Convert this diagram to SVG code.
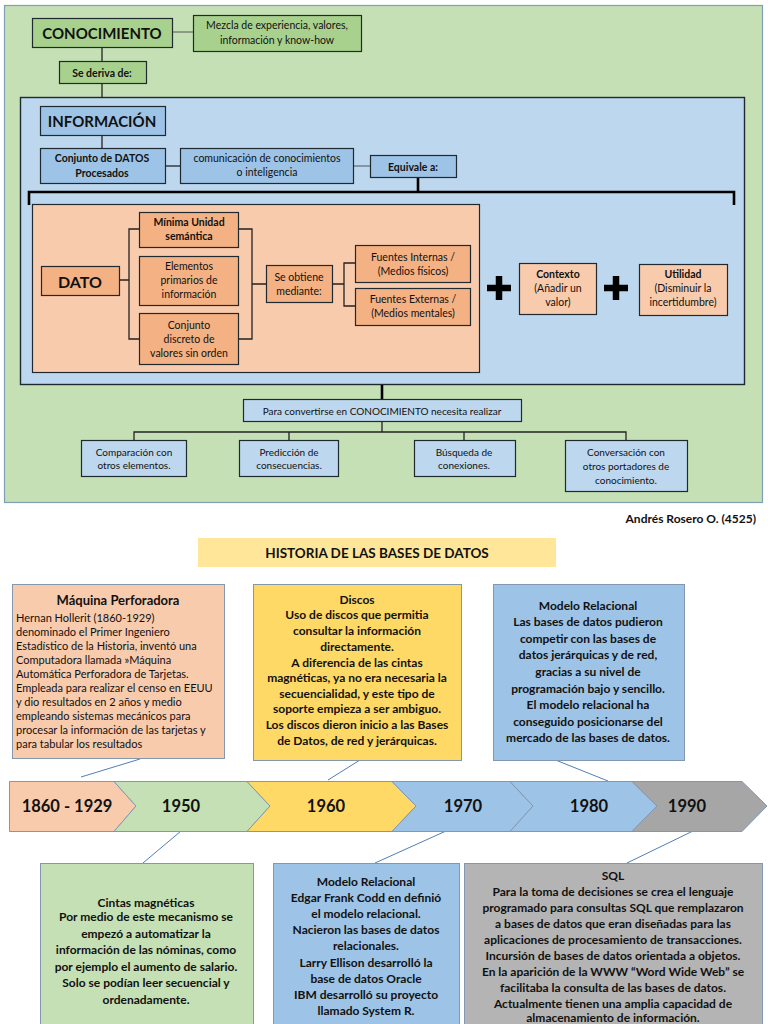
<svg xmlns="http://www.w3.org/2000/svg" width="768" height="1024" viewBox="0 0 768 1024">
<style>
text{font-family:Lato,"Liberation Sans",sans-serif;fill:#111;text-anchor:middle;dominant-baseline:central}
.b{font-weight:bold}
.big{font-size:15px;font-weight:bold}
.s{font-size:10.5px}
.box{stroke:#1e2a30;stroke-width:1.2}
.tl{stroke:#8497b0;stroke-width:1}
.con{stroke:#222;stroke-width:1.3;fill:none}
.lk{stroke:#4f7fb5;stroke-width:1;fill:none}
.bk{stroke:#000;stroke-width:2.6;fill:none}
.g1{fill:#a9d18e}.g0{fill:#c5e0b4}.b0{fill:#bdd7ee}.b1{fill:#9dc3e6}.o0{fill:#f8cbad}.o1{fill:#f4b183}.y1{fill:#ffd966}.gr{fill:#b4b4b4}
.body{font-size:12px;font-weight:bold}
.lt{text-anchor:start;font-size:11px}
</style>

<!-- panels -->
<rect x="4.5" y="5.5" width="758" height="497" fill="#c5e0b4" stroke="#7f9fb5" stroke-width="1.2"/>
<rect x="20.5" y="97.5" width="724" height="287" class="b0" stroke="#1e2a30" stroke-width="1.4"/>
<rect x="32.5" y="204.5" width="447" height="168" class="o0" stroke="#1e2a30" stroke-width="1.2"/>

<g id="connectors">
<line x1="173" y1="32" x2="193" y2="32" stroke="#555" stroke-width="1"/>
<line x1="102" y1="47" x2="102" y2="61" class="con"/>
<line x1="102" y1="83" x2="102" y2="97" class="con"/>
<line x1="102" y1="135" x2="102" y2="148" class="con"/>
<line x1="165" y1="166" x2="180" y2="166" class="con"/>
<line x1="353" y1="166" x2="370" y2="166" stroke="#555" stroke-width="1"/>
<path d="M418 177 V192 M29 205 V192 H734 V205" class="bk"/>
<path d="M119 280 H129 M139 229 H129 V339 H139 M238 229 H252 V339 H238 M252 284 H266" class="con"/>
<path d="M332 284 H344 M355 263 H344 V306 H355" class="con"/>
<line x1="382" y1="385" x2="382" y2="399" class="bk" stroke-width="2"/>
<path d="M382 421 V432 M134 440 V432 H626 V440 M289 432 V440 M464 432 V440" class="con" stroke-width="1.1"/>
<line x1="140" y1="759" x2="81" y2="777" class="lk"/>
<line x1="360" y1="760" x2="328" y2="780" class="lk"/>
<line x1="553" y1="759" x2="608" y2="781" class="lk"/>
<line x1="181" y1="831" x2="143" y2="863" class="lk"/>
<line x1="446" y1="831" x2="375" y2="863" class="lk"/>
<line x1="693" y1="831" x2="627" y2="863" class="lk"/>
</g>

<g id="conocimiento"><rect x="32.5" y="18.5" width="140" height="29" class="box g1"/><text x="102" y="33" class="big">CONOCIMIENTO</text></g>
<g id="mezcla"><rect x="193.5" y="15.5" width="168" height="36" class="box g1"/><text x="277" y="25" class="s">Mezcla de experiencia, valores,</text><text x="277" y="40" class="s">información y know-how</text></g>
<g id="sederiva"><rect x="59.5" y="61.5" width="87" height="22" class="box g1"/><text x="102" y="72.5" class="s b">Se deriva de:</text></g>

<g id="informacion"><rect x="40.5" y="106.5" width="125" height="29" class="box b1"/><text x="102" y="121" class="big">INFORMACIÓN</text></g>
<g id="conjunto"><rect x="40.5" y="148.5" width="125" height="35" class="box b1"/><text x="102" y="158" class="s b">Conjunto de DATOS</text><text x="102" y="173" class="s b">Procesados</text></g>
<g id="comunicacion"><rect x="180.5" y="148.5" width="173" height="35" class="box b1"/><text x="267" y="158" class="s">comunicación de conocimientos</text><text x="267" y="172" class="s">o inteligencia</text></g>
<g id="equivale"><rect x="370.5" y="155.5" width="86" height="22" class="box b1"/><text x="413" y="166.5" class="s b">Equivale a:</text></g>

<g id="dato"><rect x="41.5" y="266.5" width="78" height="29" class="box o1"/><text x="80" y="281" class="big" style="font-size:16px">DATO</text></g>
<g id="minima"><rect x="139.5" y="212.5" width="99" height="35" class="box o1"/><text x="189" y="222" class="s b">Mínima Unidad</text><text x="189" y="236" class="s b">semántica</text></g>
<g id="elementos"><rect x="139.5" y="256.5" width="99" height="49" class="box o1"/><text x="189" y="266" class="s">Elementos</text><text x="189" y="280" class="s">primarios de</text><text x="189" y="294" class="s">información</text></g>
<g id="discreto"><rect x="139.5" y="313.5" width="99" height="51" class="box o1"/><text x="189" y="325" class="s">Conjunto</text><text x="189" y="339" class="s">discreto de</text><text x="189" y="353" class="s">valores sin orden</text></g>
<g id="seobtiene"><rect x="266.5" y="265.5" width="66" height="37" class="box o1"/><text x="299" y="277" class="s">Se obtiene</text><text x="299" y="291" class="s">mediante:</text></g>
<g id="internas"><rect x="355.5" y="245.5" width="115" height="37" class="box o1"/><text x="413" y="257" class="s">Fuentes Internas /</text><text x="413" y="271" class="s">(Medios físicos)</text></g>
<g id="externas"><rect x="355.5" y="288.5" width="115" height="37" class="box o1"/><text x="413" y="299" class="s">Fuentes Externas /</text><text x="413" y="313" class="s">(Medios mentales)</text></g>
<g id="plus1"><path d="M487 288 H511 M499 276 V300" stroke="#000" stroke-width="6.5"/></g>
<g id="contexto"><rect x="519.5" y="263.5" width="77" height="51" class="box o0"/><text x="558" y="274" class="s b">Contexto</text><text x="558" y="288" class="s">(Añadir un</text><text x="558" y="302" class="s">valor)</text></g>
<g id="plus2"><path d="M604 288 H628 M616 276 V300" stroke="#000" stroke-width="6.5"/></g>
<g id="utilidad"><rect x="639.5" y="264.5" width="88" height="51" class="box o0"/><text x="683" y="274" class="s b">Utilidad</text><text x="683" y="288" class="s">(Disminuir la</text><text x="683" y="302" class="s">incertidumbre)</text></g>

<g id="paraconvertirse"><rect x="243.5" y="399.5" width="278" height="22" class="box b0"/><text x="382" y="410.5" class="s" style="font-size:10px">Para convertirse en CONOCIMIENTO necesita realizar</text></g>
<g id="comparacion"><rect x="81.5" y="440.5" width="105" height="36" class="box b0"/><text x="134" y="452" class="s" style="font-size:10px">Comparación con</text><text x="134" y="465" class="s" style="font-size:10px">otros elementos.</text></g>
<g id="prediccion"><rect x="239.5" y="440.5" width="99" height="36" class="box b0"/><text x="289" y="452" class="s" style="font-size:10px">Predicción de</text><text x="289" y="465" class="s" style="font-size:10px">consecuencias.</text></g>
<g id="busqueda"><rect x="414.5" y="440.5" width="101" height="36" class="box b0"/><text x="464" y="452" class="s" style="font-size:10px">Búsqueda de</text><text x="464" y="465" class="s" style="font-size:10px">conexiones.</text></g>
<g id="conversacion"><rect x="565.5" y="440.5" width="122" height="51" class="box b0"/><text x="626" y="452" class="s" style="font-size:10px">Conversación con</text><text x="626" y="466" class="s" style="font-size:10px">otros portadores de</text><text x="626" y="480" class="s" style="font-size:10px">conocimiento.</text></g>

<text x="756" y="518" class="b" style="font-size:12px;text-anchor:end">Andrés Rosero O. (4525)</text>

<g id="titulo"><rect x="198" y="538" width="358" height="29" fill="#ffe699"/><text x="377" y="553" class="b" style="font-size:13.5px">HISTORIA DE LAS BASES DE DATOS</text></g>

<g id="maquina"><rect x="12.5" y="584.5" width="212" height="174" class="tl o0"/>
<text x="118" y="600" class="b" style="font-size:13px">Máquina Perforadora</text>
<text x="16" y="617" class="lt">Hernan Hollerit (1860-1929)</text>
<text x="16" y="631" class="lt">denominado el Primer Ingeniero</text>
<text x="16" y="645" class="lt">Estadístico de la Historia, inventó una</text>
<text x="16" y="659" class="lt">Computadora llamada »Máquina</text>
<text x="16" y="673" class="lt">Automática Perforadora de Tarjetas.</text>
<text x="16" y="687" class="lt">Empleada para realizar el censo en EEUU</text>
<text x="16" y="701" class="lt">y dio resultados en 2 años y medio</text>
<text x="16" y="715" class="lt">empleando sistemas mecánicos para</text>
<text x="16" y="729" class="lt">procesar la información de las tarjetas y</text>
<text x="16" y="743" class="lt">para tabular los resultados</text>
</g>

<g id="discos"><rect x="253.5" y="584.5" width="208" height="176" class="tl y1"/>
<text x="357" y="599" class="body">Discos</text>
<text x="357" y="614" class="body">Uso de discos que permitia</text>
<text x="357" y="630" class="body">consultar la información</text>
<text x="357" y="646" class="body">directamente.</text>
<text x="357" y="662" class="body">A diferencia de las cintas</text>
<text x="357" y="677" class="body">magnéticas, ya no era necesaria la</text>
<text x="357" y="693" class="body">secuencialidad, y este tipo de</text>
<text x="357" y="708" class="body">soporte empieza a ser ambiguo.</text>
<text x="357" y="724" class="body">Los discos dieron inicio a las Bases</text>
<text x="357" y="740" class="body">de Datos, de red y jerárquicas.</text>
</g>

<g id="modelo1"><rect x="493.5" y="584.5" width="191" height="176" class="tl b1"/>
<text x="588" y="605" class="body">Modelo Relacional</text>
<text x="588" y="621" class="body">Las bases de datos pudieron</text>
<text x="588" y="638" class="body">competir con las bases de</text>
<text x="588" y="654" class="body">datos jerárquicas y de red,</text>
<text x="588" y="671" class="body">gracias a su nivel de</text>
<text x="588" y="688" class="body">programación bajo y sencillo.</text>
<text x="588" y="704" class="body">El modelo relacional ha</text>
<text x="588" y="721" class="body">conseguido posicionarse del</text>
<text x="588" y="737" class="body">mercado de las bases de datos.</text>
</g>

<g id="timeline">
<path d="M9.5 781.5 H114 L136 806 L114 831.5 H9.5 Z" class="tl o0"/>
<path d="M114 781.5 H247 L270 806 L247 831.5 H114 L136 806 Z" class="tl g0"/>
<path d="M247 781.5 H392 L416 806 L392 831.5 H247 L270 806 Z" class="tl y1"/>
<path d="M392 781.5 H510 L533 806 L510 831.5 H392 L416 806 Z" class="tl b1"/>
<path d="M510 781.5 H632 L657 806 L632 831.5 H510 L533 806 Z" class="tl b1"/>
<path d="M632 781.5 H742 L767 806 L742 831.5 H632 L657 806 Z" class="tl" fill="#a6a6a6"/>
<g class="b" style="font-size:16.5px">
<text x="67" y="806" class="b">1860 - 1929</text>
<text x="181" y="806" class="b">1950</text>
<text x="326" y="806" class="b">1960</text>
<text x="463" y="806" class="b">1970</text>
<text x="589" y="806" class="b">1980</text>
<text x="687" y="806" class="b">1990</text>
</g></g>

<g id="cintas"><rect x="40.5" y="863.5" width="213" height="170" class="tl g0"/>
<text x="146" y="902" class="body">Cintas magnéticas</text>
<text x="146" y="916" class="body">Por medio de este mecanismo se</text>
<text x="146" y="933" class="body">empezó a automatizar la</text>
<text x="146" y="949" class="body">información de las nóminas, como</text>
<text x="146" y="966" class="body">por ejemplo el aumento de salario.</text>
<text x="146" y="982" class="body">Solo se podían leer secuencial y</text>
<text x="146" y="999" class="body">ordenadamente.</text>
</g>

<g id="modelo2"><rect x="273.5" y="863.5" width="186" height="170" class="tl b1"/>
<text x="366" y="881" class="body">Modelo Relacional</text>
<text x="366" y="897" class="body">Edgar Frank Codd en definió</text>
<text x="366" y="913" class="body">el modelo relacional.</text>
<text x="366" y="929" class="body">Nacieron las bases de datos</text>
<text x="366" y="945" class="body">relacionales.</text>
<text x="366" y="962" class="body">Larry Ellison desarrolló la</text>
<text x="366" y="978" class="body">base de datos Oracle</text>
<text x="366" y="994" class="body">IBM desarrolló su proyecto</text>
<text x="366" y="1010" class="body">llamado System R.</text>
</g>

<g id="sql"><rect x="464.5" y="863.5" width="298" height="170" class="tl gr"/>
<text x="613" y="875" class="body">SQL</text>
<text x="613" y="891" class="body">Para la toma de decisiones se crea el lenguaje</text>
<text x="613" y="907" class="body">programado para consultas SQL que remplazaron</text>
<text x="613" y="923" class="body">a bases de datos que eran diseñadas para las</text>
<text x="613" y="939" class="body">aplicaciones de procesamiento de transacciones.</text>
<text x="613" y="955" class="body">Incursión de bases de datos orientada a objetos.</text>
<text x="613" y="971" class="body">En la aparición de la WWW “Word Wide Web” se</text>
<text x="613" y="987" class="body">facilitaba la consulta de las bases de datos.</text>
<text x="613" y="1003" class="body">Actualmente tienen una amplia capacidad de</text>
<text x="613" y="1017" class="body">almacenamiento de información.</text>
</g>
</svg>
